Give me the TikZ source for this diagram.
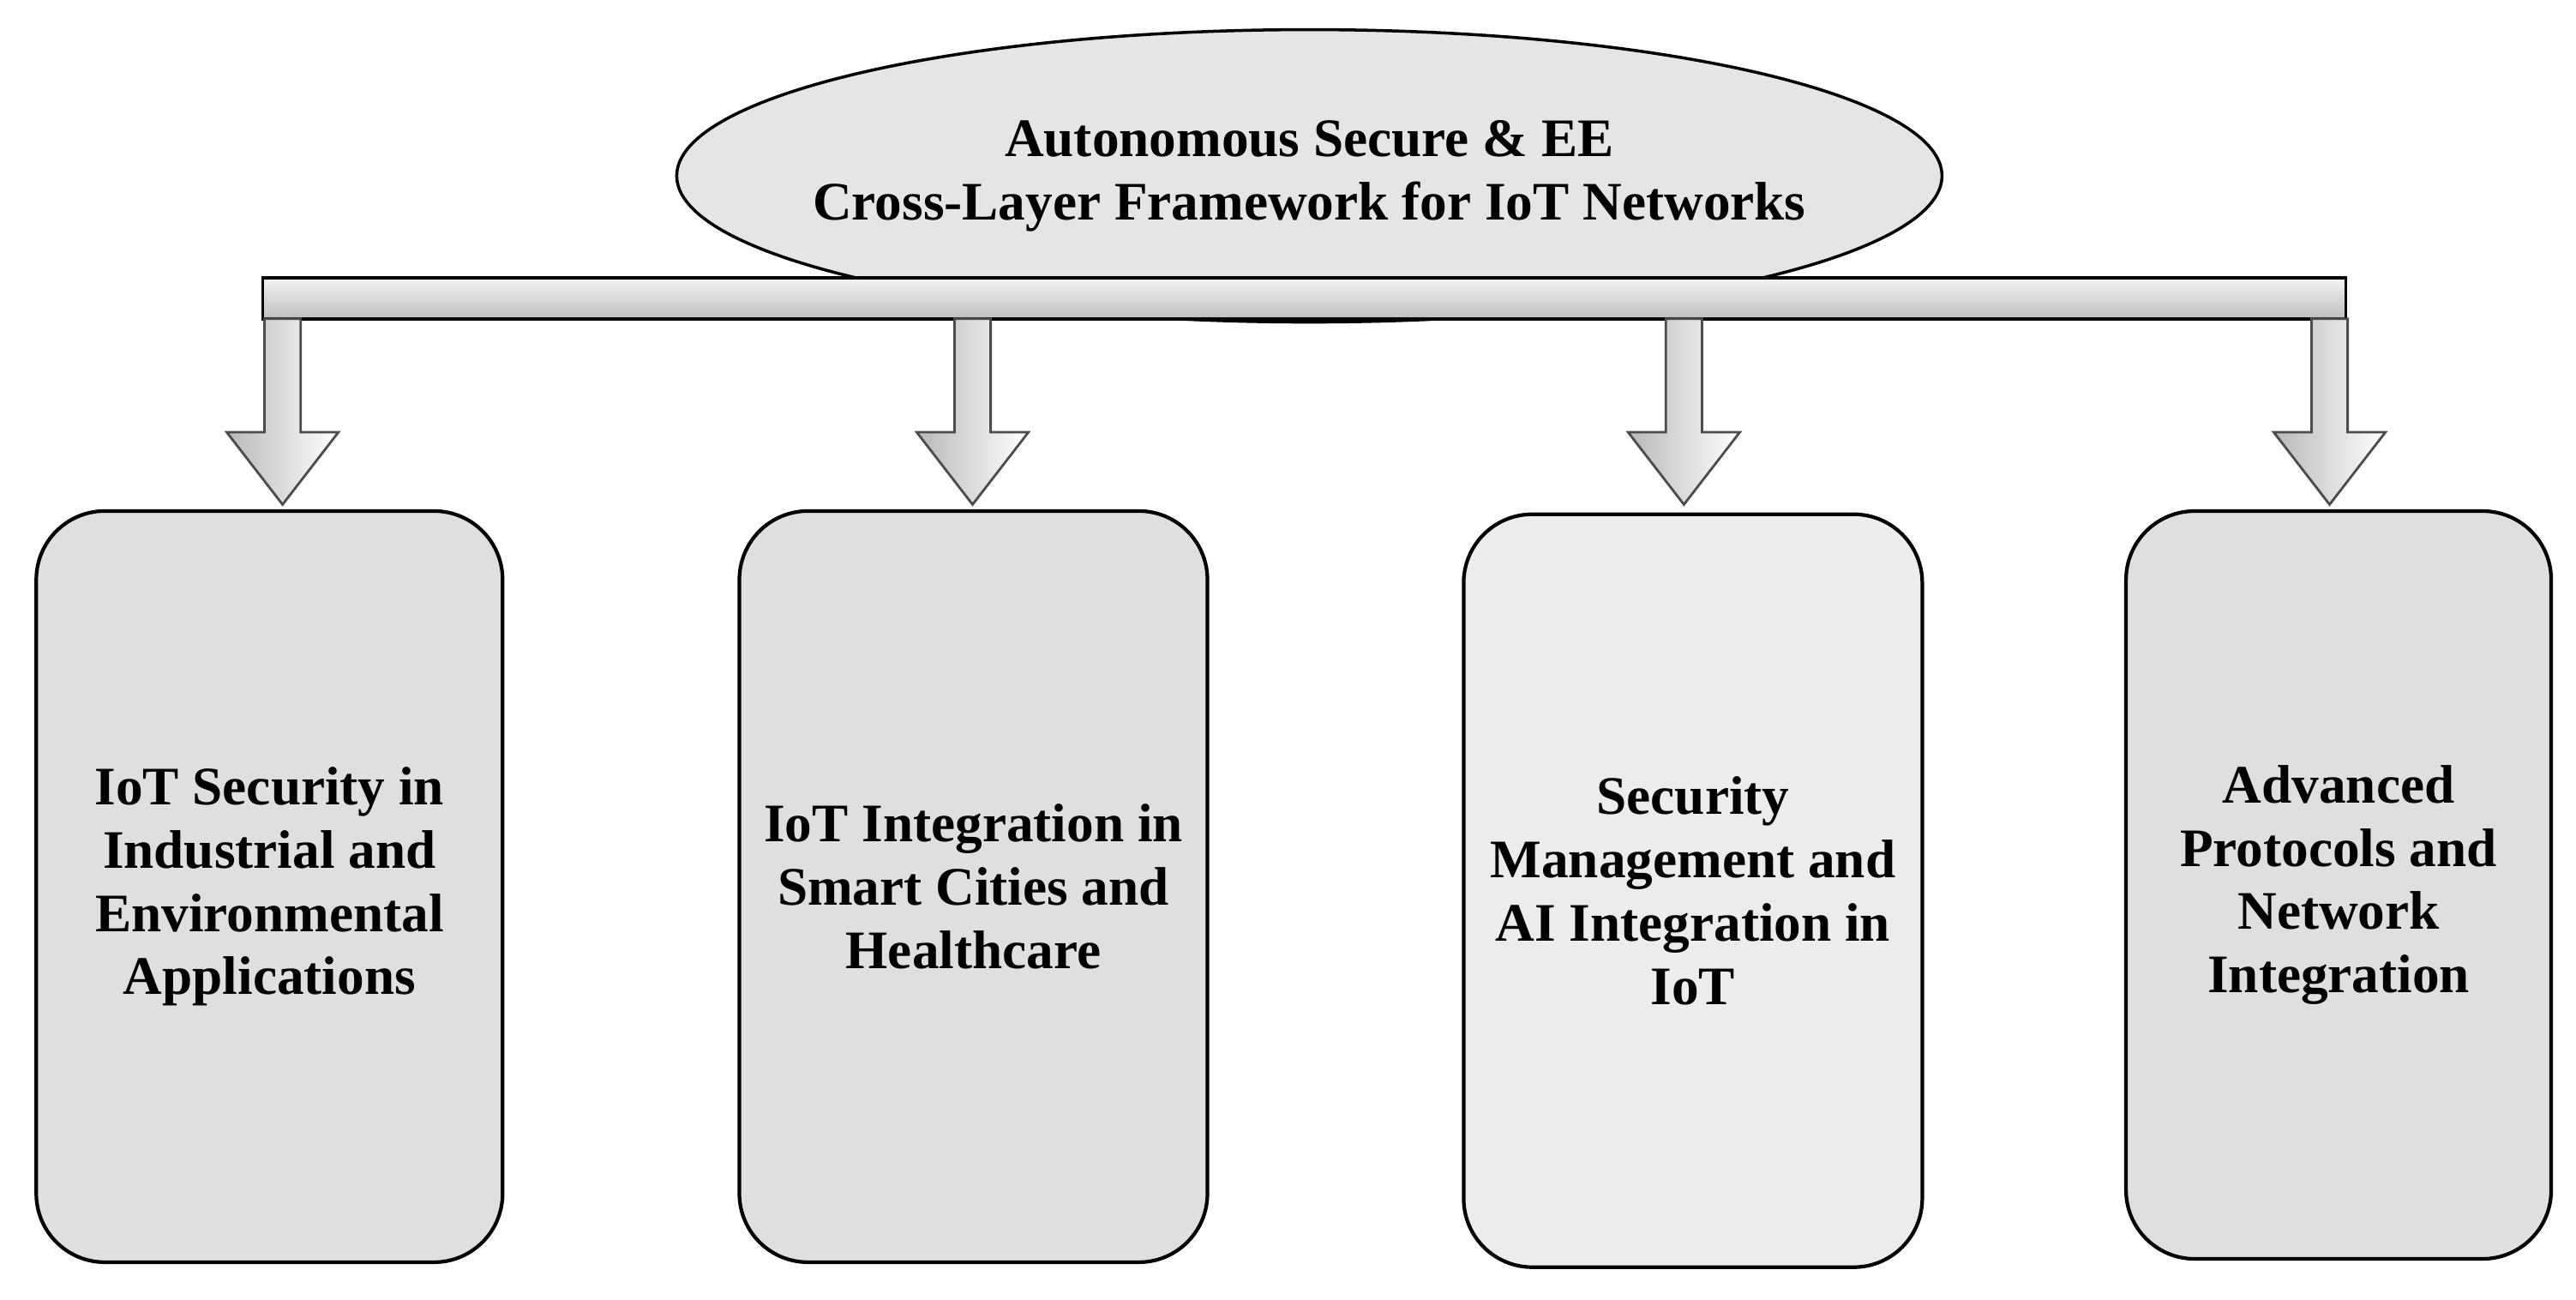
\documentclass[tikz,border=0pt]{standalone}
\usepackage{fontspec}
\setmainfont{Liberation Serif}
\usetikzlibrary{shapes.geometric}
\begin{document}
\begin{tikzpicture}[x=0.019165cm,y=-0.019165cm,
  box/.style={draw=black,line width=1.2pt,rounded corners=0.8cm,align=center,font=\bfseries\fontsize{18}{21}\selectfont,inner sep=0pt},
  blk/.style={draw=gray!60!black,line width=0.8pt,left color=gray!55,right color=white}]
\useasboundingbox (0,0) rectangle (1568,791);
\node[ellipse,draw=black,line width=1pt,fill=gray!20,minimum width=14.76cm,minimum height=3.41cm,inner sep=0pt] (top) at (797,107) {};
\node[align=center,font=\bfseries\fontsize{18}{21}\selectfont] (toptext) at (797,107) {Autonomous Secure \& EE\\Cross-Layer Framework for IoT Networks};
\draw[line width=1pt,top color=gray!10,bottom color=gray!50] (160,169) rectangle (1428,194);
\node[box,fill=gray!25,minimum width=5.44cm,minimum height=8.76cm] (b1) at (164,539.5) {IoT Security in\\Industrial and\\Environmental\\Applications};
\node[box,fill=gray!25,minimum width=5.46cm,minimum height=8.76cm] (b2) at (592.5,539.5) {IoT Integration in\\Smart Cities and\\Healthcare};
\node[box,fill=gray!15,minimum width=5.35cm,minimum height=8.78cm] (b3) at (1030.5,542) {Security\\Management and\\AI Integration in\\IoT};
\node[box,fill=gray!25,minimum width=4.96cm,minimum height=8.72cm] (b4) at (1423.5,538.5) {Advanced\\Protocols and\\Network\\Integration};
\foreach \x in {172,592,1025,1418}{
  \draw[blk] (\x-11,194) -- (\x+11,194) -- (\x+11,263) -- (\x+34,263) -- (\x,307) -- (\x-34,263) -- (\x-11,263) -- cycle;
}
\end{tikzpicture}
\end{document}
